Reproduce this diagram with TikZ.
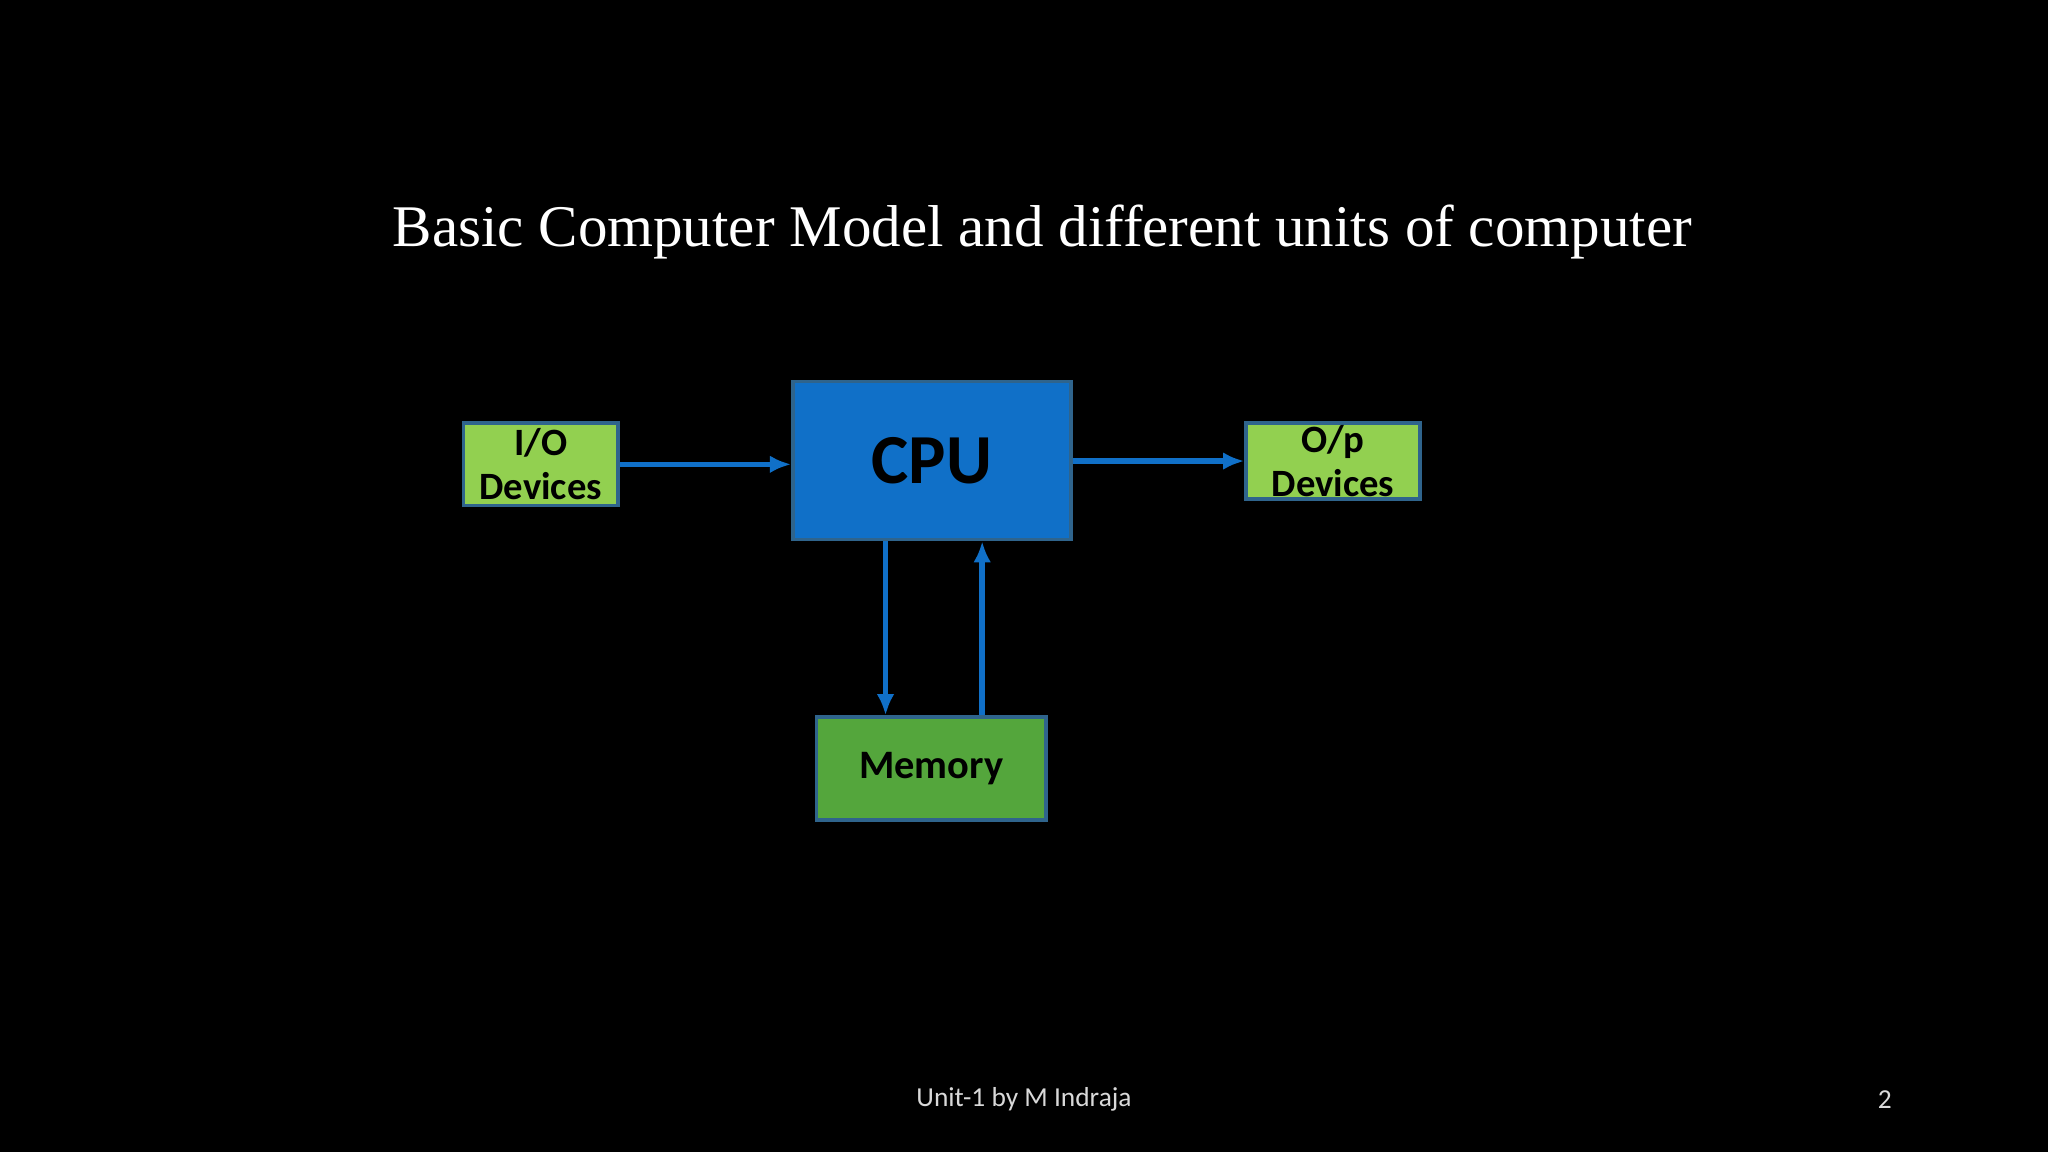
\documentclass[tikz,border=0pt]{standalone}
\usepackage{fontspec}
\usetikzlibrary{arrows.meta}
\setmainfont{Liberation Serif}
\newfontfamily\carl{Carlito}
\definecolor{lg}{RGB}{146,208,80}
\definecolor{dg}{RGB}{84,166,60}
\definecolor{cb}{RGB}{16,112,200}
\definecolor{bd}{RGB}{47,100,140}
\begin{document}
\begin{tikzpicture}[x=0.013061cm,y=-0.013061cm,
  box/.style={draw=bd,line width=1pt,inner sep=0pt,align=center},
  arr/.style={draw=cb,line width=1.6pt,-{Latex[length=6pt,width=5pt]}}]
\fill[black] (0,0) rectangle (1568,882);
\useasboundingbox (0,0) rectangle (1568,882);
\node[white,font=\fontsize{16.8}{20}\selectfont] (title) at (798,178) {Basic Computer Model and different units of computer};
\node[box,fill=lg,minimum width=118*0.013061cm,minimum height=63*0.013061cm,font=\carl\bfseries\fontsize{11}{12.5}\selectfont] (io) at (414,355.5) {I/O\\Devices};
\node[box,fill=cb,minimum width=213*0.013061cm,minimum height=121*0.013061cm,font=\carl\bfseries\fontsize{20}{24}\selectfont] (cpu) at (713.5,352.5) {CPU};
\node[box,fill=lg,minimum width=133*0.013061cm,minimum height=58*0.013061cm,font=\carl\bfseries\fontsize{11}{12.5}\selectfont] (op) at (1020.5,353) {O/p\\Devices};
\node[box,fill=dg,minimum width=176*0.013061cm,minimum height=79*0.013061cm,font=\carl\bfseries\fontsize{11.5}{13}\selectfont] (mem) at (713,588.5) {Memory};
\draw[arr] (io.east) -- (cpu.west |- io.east);
\draw[arr] (cpu.east |- op.west) -- (op.west);
\draw[arr] (cpu.south -| 678,0) -- (mem.north -| 678,0);
\draw[arr] (mem.north -| 752,0) -- (cpu.south -| 752,0);
\node[white!85!black,font=\carl\fontsize{7.8}{9}\selectfont] (foot) at (784,842) {Unit-1 by M Indraja};
\node[white!85!black,font=\carl\fontsize{7.8}{9}\selectfont] (pg) at (1443,842) {2};
\end{tikzpicture}
\end{document}
